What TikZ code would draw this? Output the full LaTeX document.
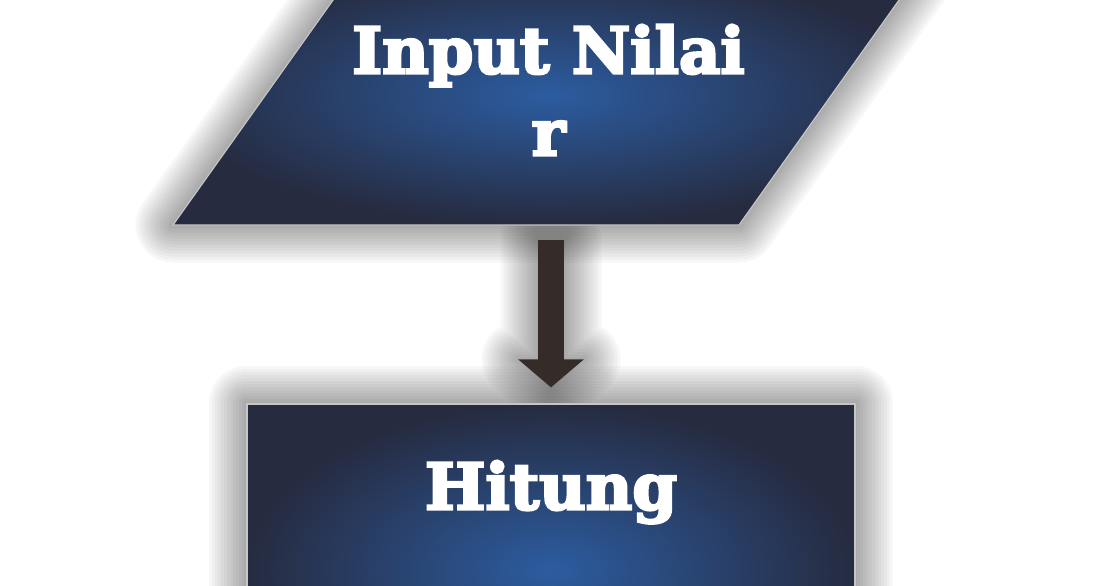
\documentclass[tikz,border=0pt]{standalone}
\usepackage{fontspec}
\setmainfont{DejaVu Serif}[BoldFeatures={FakeBold=4}]
\usetikzlibrary{arrows.meta,backgrounds,calc}
\definecolor{navyD}{HTML}{262B40}
\definecolor{blueC}{HTML}{2C5CA0}
\definecolor{arrowC}{HTML}{352C2A}

\begin{document}
\begin{tikzpicture}[x=1pt,y=-1pt,
  box/.style={draw=gray!45, line width=1.2pt, inner color=blueC, outer color=navyD},
  lbl/.style={text=white, font=\fontsize{64}{82}\selectfont\bfseries, align=center},
  blur/.style={line width=#1, black, opacity=0.03, line join=round},
]
  \useasboundingbox (0,0) rectangle (1117,586);

  % input box (top is cut off by the page)
  \coordinate (bl) at (173,225);
  \coordinate (br) at (739,225);
  \coordinate (tr) at (924,-35);
  \coordinate (tl) at (358,-35);
  \path[box] (bl) -- (br) -- (tr) -- (tl) -- cycle;
  \node[lbl] (in) at (548.5,90) {Input Nilai\\r};
  \coordinate (inbot) at (551,225);

  % process box
  \node[box, minimum width=608pt, minimum height=332pt] (h) at (551,570) {};
  \node[lbl, anchor=base] (ht) at ($(h.north)+(0,106)$) {Hitung};

  \draw[arrowC, line width=26pt, -{Triangle[width=64pt,length=28pt]},
        shorten <=15pt, shorten >=16pt] (inbot) -- (h.north);

  % soft shadows
  \begin{scope}[on background layer]
    \foreach \w in {3,9,...,75}{
      \draw[blur=\w pt, shift={(-3,4)}] (bl) -- (br) -- (tr) -- (tl) -- cycle;
      \draw[blur=\w pt] (h.north west) rectangle (h.south east);
      \draw[blur=\w pt] ($(inbot)+(-13,15)$) -- ($(inbot)+(13,15)$)
        -- ($(h.north)+(13,-44)$) -- ($(h.north)+(32,-44)$) -- ($(h.north)+(0,-16)$)
        -- ($(h.north)+(-32,-44)$) -- ($(h.north)+(-13,-44)$) -- cycle;
    }
  \end{scope}
\end{tikzpicture}
\end{document}
